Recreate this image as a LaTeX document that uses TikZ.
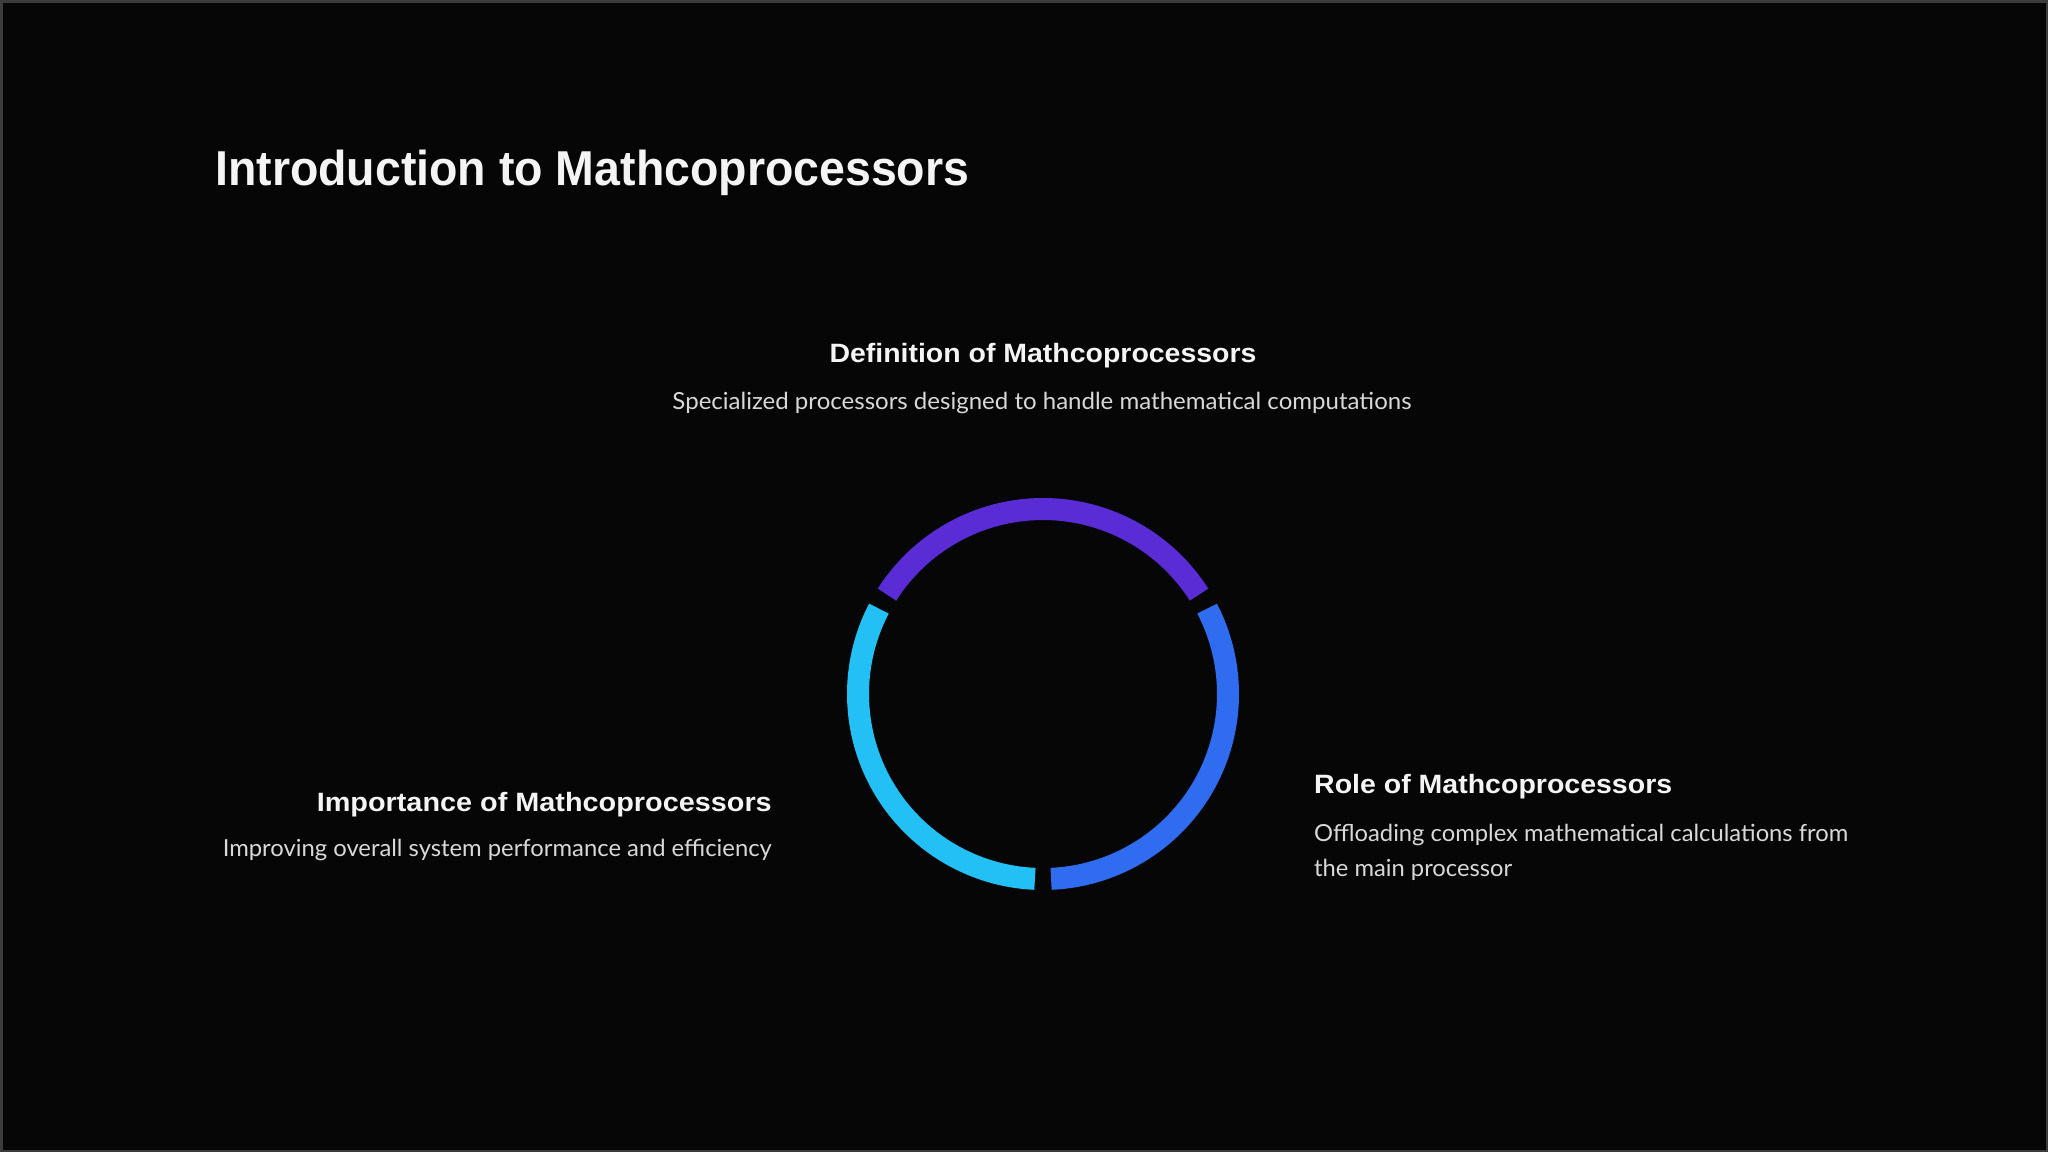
\documentclass[tikz,border=0pt]{standalone}
\usepackage{fontspec}
\usepackage{graphicx}
\usetikzlibrary{calc}
\setmainfont{Liberation Sans}
\newfontfamily\headfont{Liberation Sans}
\newfontfamily\bodyfont{Lato}
\definecolor{bgcol}{HTML}{060606}
\definecolor{framecol}{HTML}{3C3C3C}
\definecolor{headcol}{HTML}{F4F4F4}
\definecolor{desccol}{HTML}{D8D8D8}
\definecolor{ringpurple}{HTML}{5A2CD6}
\definecolor{ringblue}{HTML}{2F6CF0}
\definecolor{ringcyan}{HTML}{22C0F4}
\newcommand{\fitwidth}[2]{\resizebox{#1}{\height}{#2}}
\tikzset{
  titletext/.style={inner sep=0pt, text=headcol, font=\headfont\bfseries\fontsize{49}{55}\selectfont},
  headtext/.style={inner sep=0pt, text=headcol, font=\headfont\bfseries\fontsize{26.5}{30}\selectfont},
  desctext/.style={inner sep=0pt, text=desccol, font=\bodyfont\fontsize{23.5}{35}\selectfont},
  ringseg/.style={line width=22pt, line cap=butt}
}
\begin{document}
\begin{tikzpicture}[x=1pt,y=-1pt]
  % background and frame
  \fill[bgcol] (0,0) rectangle (2048,1152);
  \draw[framecol, line width=2.5pt] (1.25,1.25) rectangle (2046.75,1150.75);
  \useasboundingbox (0,0) rectangle (2048,1152);

  % title
  \node[titletext, anchor=base west] (title) at (215,185) {\fitwidth{754pt}{Introduction to Mathcoprocessors}};

  % ring
  \coordinate (c) at (1043,694);
  \draw[ringseg, ringpurple] ($(c)+(32.5:185 and -185)$) arc[start angle=32.5, end angle=147.5, x radius=185, y radius=-185];
  \draw[ringseg, ringcyan]   ($(c)+(152.5:185 and -185)$) arc[start angle=152.5, end angle=267.5, x radius=185, y radius=-185];
  \draw[ringseg, ringblue]   ($(c)+(272.5:185 and -185)$) arc[start angle=272.5, end angle=387.5, x radius=185, y radius=-185];

  % definition
  \node[headtext, anchor=base] (defhead) at (1043,362) {\fitwidth{427pt}{Definition of Mathcoprocessors}};
  \node[desctext, anchor=base] (defdesc) at (1042,409) {\fitwidth{739pt}{Specialized processors designed to handle mathematical computations}};

  % importance
  \node[headtext, anchor=base east] (imphead) at (772,811) {\fitwidth{455pt}{Importance of Mathcoprocessors}};
  \node[desctext, anchor=base east] (impdesc) at (772,856) {\fitwidth{549pt}{Improving overall system performance and efficiency}};

  % role
  \node[headtext, anchor=base west] (rolehead) at (1314,793) {\fitwidth{358pt}{Role of Mathcoprocessors}};
  \node[desctext, anchor=base west] (roledescA) at (1314,841) {\fitwidth{534pt}{Offloading complex mathematical calculations from}};
  \node[desctext, anchor=base west] (roledescB) at (1314,876) {\fitwidth{198pt}{the main processor}};
\end{tikzpicture}
\end{document}
